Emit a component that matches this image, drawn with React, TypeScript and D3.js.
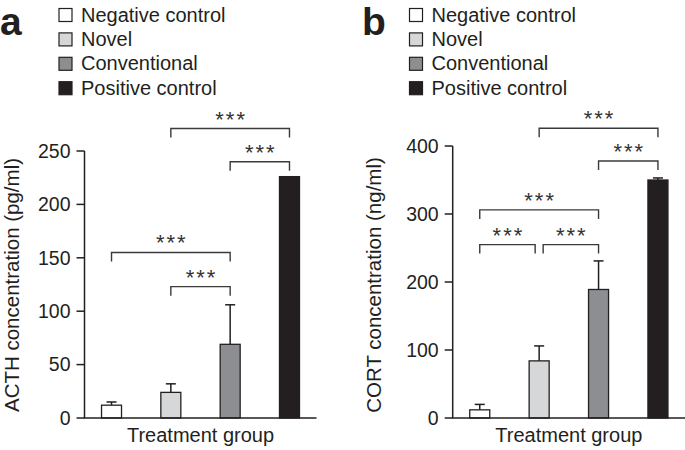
import React from "react";
import * as d3 from "d3";

const groups = ["Negative control", "Novel", "Conventional", "Positive control"];
const groupColors = ["#ffffff", "#d6d7d9", "#8d8e91", "#231f20"];

const acthMeans = [12, 24, 69, 226];
const acthErrors = [3, 8, 37, 0];
const acthTicks = [0, 50, 100, 150, 200, 250];
const acthComparisons = [
  { from: 1, to: 3, level: 271, label: "***" },
  { from: 2, to: 3, level: 240, label: "***" },
  { from: 0, to: 2, level: 155, label: "***" },
  { from: 1, to: 2, level: 123, label: "***" },
];

const cortMeans = [12, 84, 189, 350];
const cortErrors = [8, 22, 42, 3];
const cortTicks = [0, 100, 200, 300, 400];
const cortComparisons = [
  { from: 1, to: 3, level: 426, label: "***" },
  { from: 2, to: 3, level: 378, label: "***" },
  { from: 0, to: 2, level: 306, label: "***" },
  { from: 0, to: 1, level: 255, label: "***" },
  { from: 1, to: 2, level: 255, label: "***" },
];

const INK = "#231f20";
const FONT = "'Liberation Sans', Arial, Helvetica, sans-serif";

type Comparison = { from: number; to: number; level: number; label: string };

function Panel(props: {
  letter: string;
  letterX: number;
  legendX: number;
  axisX: number;
  axisWidth: number;
  yLabel: string;
  yLabelX: number;
  max: number;
  topY: number;
  ticks: number[];
  means: number[];
  errors: number[];
  comparisons: Comparison[];
}) {
  const { letter, letterX, legendX, axisX, axisWidth, yLabel, yLabelX, max, topY, ticks, means, errors, comparisons } = props;
  const baseY = 418;
  const y = d3.scaleLinear().domain([0, max]).range([baseY, topY]);
  const x = d3
    .scaleBand<string>()
    .domain(groups)
    .range([axisX, axisX + axisWidth])
    .paddingInner(0.663)
    .paddingOuter(0.287);
  const bw = x.bandwidth();
  const cx = (i: number) => (x(groups[i]) as number) + bw / 2;
  const capW = 10;
  const legH = 9;

  return (
    <g>
      <text x={letterX} y={35} fontFamily={FONT} fontWeight="bold" fontSize={39} fill={INK}>
        {letter}
      </text>
      {groups.map((g, i) => (
        <g key={g}>
          <rect
            x={legendX}
            y={8.5 + i * 24.4}
            width={13}
            height={13}
            fill={groupColors[i]}
            stroke={INK}
            strokeWidth={1.2}
          />
          <text x={legendX + 22} y={21.5 + i * 24.4} fontFamily={FONT} fontSize={20} fill={INK}>
            {g}
          </text>
        </g>
      ))}

      {/* y axis */}
      <line x1={axisX} x2={axisX} y1={y(0)} y2={y(max)} stroke={INK} strokeWidth={1.5} />
      {ticks.map((t) => (
        <g key={t}>
          <line x1={axisX - 8} x2={axisX} y1={y(t)} y2={y(t)} stroke={INK} strokeWidth={1.5} />
          <text
            x={axisX - 14}
            y={y(t)}
            dy="0.35em"
            textAnchor="end"
            fontFamily={FONT}
            fontSize={19.5}
            fill={INK}
          >
            {t}
          </text>
        </g>
      ))}
      <text
        transform={`translate(${yLabelX},${285}) rotate(-90)`}
        textAnchor="middle"
        fontFamily={FONT}
        fontSize={20.5}
        fill={INK}
      >
        {yLabel}
      </text>

      {/* error bars */}
      {means.map((m, i) =>
        errors[i] > 0 ? (
          <g key={"e" + i}>
            <line x1={cx(i)} x2={cx(i)} y1={y(m)} y2={y(m + errors[i])} stroke={INK} strokeWidth={1.5} />
            <line
              x1={cx(i) - capW / 2}
              x2={cx(i) + capW / 2}
              y1={y(m + errors[i])}
              y2={y(m + errors[i])}
              stroke={INK}
              strokeWidth={1.5}
            />
          </g>
        ) : null
      )}

      {/* bars */}
      {means.map((m, i) => (
        <rect
          key={"b" + i}
          x={x(groups[i])}
          y={y(m)}
          width={bw}
          height={y(0) - y(m)}
          fill={groupColors[i]}
          stroke={INK}
          strokeWidth={1.3}
        />
      ))}

      {/* x axis */}
      <line x1={axisX - 0.75} x2={axisX + axisWidth} y1={baseY} y2={baseY} stroke={INK} strokeWidth={1.5} />
      <text
        x={axisX + axisWidth / 2}
        y={442}
        textAnchor="middle"
        fontFamily={FONT}
        fontSize={20}
        fill={INK}
      >
        Treatment group
      </text>

      {/* significance brackets */}
      {comparisons.map((c, k) => {
        const sharedLeft = comparisons.some((o) => o !== c && o.level === c.level && o.to === c.from);
        const sharedRight = comparisons.some((o) => o !== c && o.level === c.level && o.from === c.to);
        const x1 = cx(c.from) + (sharedLeft ? 4 : 0);
        const x2 = cx(c.to) - (sharedRight ? 4 : 0);
        const yy = y(c.level);
        const path = d3.path();
        path.moveTo(x1, yy + legH);
        path.lineTo(x1, yy);
        path.lineTo(x2, yy);
        path.lineTo(x2, yy + legH);
        return (
          <g key={"c" + k}>
            <path d={path.toString()} fill="none" stroke="#3a3a3a" strokeWidth={1.4} />
            <text
              x={(x1 + x2) / 2 + 1}
              y={yy - 2}
              textAnchor="middle"
              fontFamily={FONT}
              fontSize={22}
              letterSpacing={2}
              fill="#333"
            >
              {c.label}
            </text>
          </g>
        );
      })}
    </g>
  );
}

export default function App() {
  return (
    <svg
      width={685}
      height={450}
      viewBox="0 0 685 450"
      style={{ position: "absolute", left: 0, top: 0, background: "#fff" }}
    >
      <rect width={685} height={450} fill="#fff" />
      <Panel
        letter="a"
        letterX={0}
        legendX={59}
        axisX={84.5}
        axisWidth={232}
        yLabel="ACTH concentration (pg/ml)"
        yLabelX={19}
        max={250}
        topY={151}
        ticks={acthTicks}
        means={acthMeans}
        errors={acthErrors}
        comparisons={acthComparisons}
      />
      <Panel
        letter="b"
        letterX={362}
        legendX={409.5}
        axisX={452.7}
        axisWidth={232.3}
        yLabel="CORT concentration (ng/ml)"
        yLabelX={381}
        max={400}
        topY={146}
        ticks={cortTicks}
        means={cortMeans}
        errors={cortErrors}
        comparisons={cortComparisons}
      />
    </svg>
  );
}
